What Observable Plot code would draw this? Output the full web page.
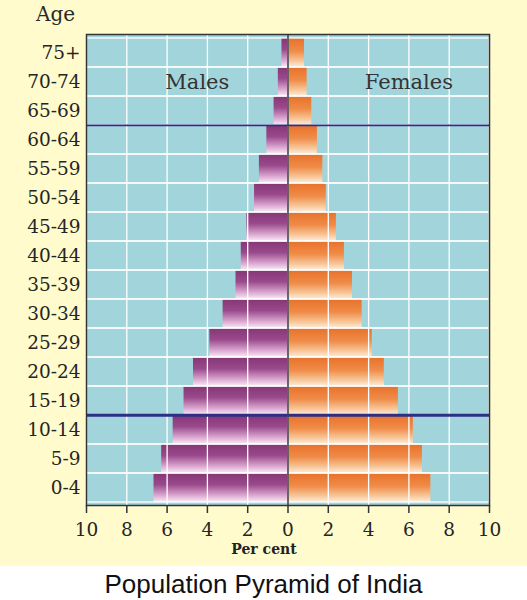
<!DOCTYPE html>
<html><head><meta charset="utf-8">
<script src="https://cdn.jsdelivr.net/npm/d3@7"></script>
<script src="https://cdn.jsdelivr.net/npm/@observablehq/plot@0.6"></script>
<style>
body{margin:0;background:#fff;}
#wrap{width:527px;background:#fffbcc;}
#age{height:28px;line-height:28px;font-family:"DejaVu Serif";font-size:20px;color:#2a2a2a;padding-left:36px;}
#chart svg{display:block;}
#cap{width:527px;text-align:center;font-family:"Liberation Sans",Arial,sans-serif;font-size:26px;color:#111;height:34px;line-height:36px;}
</style></head><body>
<div id="wrap"><div id="age">Age</div><div id="chart"></div></div>
<div id="cap">Population Pyramid of India</div>
<script>
const ages = ["75+","70-74","65-69","60-64","55-59","50-54","45-49","40-44","35-39","30-34","25-29","20-24","15-19","10-14","5-9","0-4"];
const males = [0.3, 0.48, 0.69, 1.05, 1.42, 1.66, 2.04, 2.32, 2.58, 3.22, 3.88, 4.69, 5.16, 5.7, 6.27, 6.65];
const females = [0.82, 0.95, 1.18, 1.46, 1.73, 1.9, 2.4, 2.8, 3.2, 3.68, 4.18, 4.78, 5.48, 6.22, 6.67, 7.09];
const xTicks = [-10, -8, -6, -4, -2, 0, 2, 4, 6, 8, 10];
const sexNames = ["Males", "Females"];
const sexX = [-4.5, 6.0];
const sexAge = ["70-74", "70-74"];
const navyUpper = ["60-64"];
const navyLower = ["10-14"];

const rows = ages.map((a, i) => ({age: a, male: males[i], female: females[i]}));
const sexLabels = sexNames.map((n, i) => ({name: n, x: sexX[i], age: sexAge[i]}));

const H = 538, MT = 6, MB = 61;
const bw = (H - MT - MB) / ages.length;

const defs = () => {
  const g = document.createElementNS("http://www.w3.org/2000/svg", "g");
  g.innerHTML = `<defs>
    <linearGradient id="gm" x1="0" y1="0" x2="0" y2="1">
      <stop offset="0" stop-color="#853674"/>
      <stop offset="0.4" stop-color="#9a4a8c"/>
      <stop offset="0.78" stop-color="#dcaad2"/>
      <stop offset="1" stop-color="#fbecf7"/>
    </linearGradient>
    <linearGradient id="gf" x1="0" y1="0" x2="0" y2="1">
      <stop offset="0" stop-color="#e8712a"/>
      <stop offset="0.45" stop-color="#ef8c48"/>
      <stop offset="0.8" stop-color="#f8c89c"/>
      <stop offset="1" stop-color="#fdeedd"/>
    </linearGradient></defs>`;
  return g;
};

const chart = Plot.plot({
  width: 527, height: H,
  marginTop: MT, marginBottom: MB, marginLeft: 86, marginRight: 38,
  style: {background: "transparent", fontFamily: "DejaVu Serif", fontSize: "18.5px", color: "#252525", overflow: "visible"},
  x: {domain: [-10, 10]},
  y: {domain: ages, padding: 0},
  marks: [
    defs,
    Plot.frame({fill: "#a2d4dc"}),
    Plot.barX(rows, {x1: 0, x2: d => -d.male, y: "age", fill: "url(#gm)"}),
    Plot.barX(rows, {x1: 0, x2: "female", y: "age", fill: "url(#gf)"}),
    Plot.ruleX(xTicks, {stroke: "white", strokeWidth: 1.3}),
    Plot.barX(ages, {x1: -10, x2: 10, y: d => d, fill: "none", stroke: "white", strokeWidth: 1.3}),
    Plot.ruleY(navyUpper, {y: d => d, dy: -bw / 2, stroke: "#2e2e86", strokeWidth: 1.8}),
    Plot.ruleY(navyLower, {y: d => d, dy: -bw / 2, stroke: "#2e2e86", strokeWidth: 3}),
    Plot.ruleX([0], {stroke: "#444", strokeWidth: 1.6}),
    Plot.frame({stroke: "#333", strokeWidth: 1.5}),
    Plot.text(sexLabels, {x: "x", y: "age", text: "name", fontSize: 21, fill: "#333"}),
    Plot.axisY({tickSize: 0, tickPadding: 6, label: null}),
    Plot.axisX({ticks: xTicks, tickFormat: d => Math.abs(d), tickSize: 8, tickPadding: 9, label: null, stroke: "#333", strokeWidth: 1.5}),
    Plot.text(["Per cent"], {frameAnchor: "bottom", dy: 48, dx: -24, fontWeight: "bold", fontSize: 14, fill: "#222"})
  ]
});
document.getElementById("chart").append(chart);
</script>
</body></html>
